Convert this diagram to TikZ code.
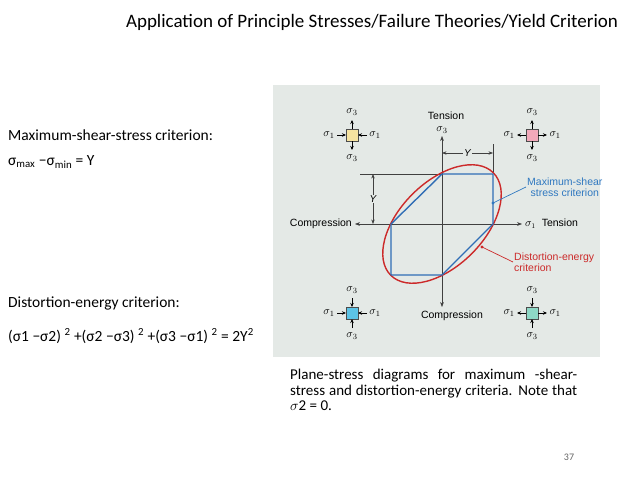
\documentclass[tikz,border=0pt]{standalone}
\usepackage{fontspec}
\setmainfont{Carlito}
\newfontfamily\arial{Liberation Sans}
\usetikzlibrary{arrows.meta}
\definecolor{bgpic}{HTML}{E4E9E6}
\definecolor{hexblue}{HTML}{2F6DB5}
\definecolor{ellred}{HTML}{CC2A2A}
\definecolor{lblblue}{HTML}{2F78C0}
\definecolor{yel}{HTML}{F6E3A0}
\definecolor{pnk}{HTML}{F2A9BA}
\definecolor{cyb}{HTML}{5CC3E6}
\definecolor{tea}{HTML}{8ED8C6}
\tikzset{
 lbl/.style={font=\arial\fontsize{10.5}{11}\selectfont, inner sep=1pt},
 sig/.style={font=\fontsize{11}{11}\selectfont, inner sep=0.5pt},
 ax/.style={draw=black!75, line width=0.5pt, -{Stealth[length=5pt]}},
 dim/.style={draw=black!75, line width=0.5pt, {Stealth[length=4.5pt]}-{Stealth[length=4.5pt]}},
 thin/.style={draw=black!75, line width=0.5pt},
 sarr/.style={draw=black, line width=0.7pt, -{Stealth[length=4pt,width=3.5pt]}},
 txt/.style={font=\fontsize{15.5}{17}\selectfont, anchor=west, inner sep=0},
}
\newcommand{\elem}[5]{% x y color horizontal-out? vertical-out?
 \begin{scope}[shift={(#1,#2)}]
 \node[draw=black!70, fill=#3, minimum size=12pt, inner sep=0] at (0,0) {};
 \ifnum#4=1
  \draw[sarr] (6,0) -- (15,0); \draw[sarr] (-6,0) -- (-15,0);
 \else
  \draw[sarr] (15,0) -- (6,0); \draw[sarr] (-15,0) -- (-6,0);
 \fi
 \ifnum#5=1
  \draw[sarr] (0,-6) -- (0,-15); \draw[sarr] (0,6) -- (0,15);
 \else
  \draw[sarr] (0,-15) -- (0,-6); \draw[sarr] (0,15) -- (0,6);
 \fi
 \node[sig] at (-23,0) {$\sigma_1$}; \node[sig] at (23,0) {$\sigma_1$};
 \node[sig] at (0,-23) {$\sigma_3$}; \node[sig] at (0,23) {$\sigma_3$};
 \end{scope}}
\begin{document}
\begin{tikzpicture}[x=1pt,y=-1pt]
\useasboundingbox (0,0) rectangle (638,479);
\fill[white] (0,0) rectangle (638,479);
\fill[bgpic] (273,85) rectangle (600,357);
% title
\node[font=\fontsize{19}{21}\selectfont] (title) at (372,22) {Application of Principle Stresses/Failure Theories/Yield Criterion};
% left text
\node[txt] (t1) at (8,135) {Maximum-shear-stress criterion:};
\node[txt] (t2) at (8,162) {σ\textsubscript{max} −σ\textsubscript{min} = Y};
\node[txt] (t3) at (8,303) {Distortion-energy criterion:};
\node[txt] (t4) at (8,336) {(σ1 −σ2) \textsuperscript{2} +(σ2 −σ3) \textsuperscript{2} +(σ3 −σ1) \textsuperscript{2} = 2Y\textsuperscript{2}};
% caption
\node[font=\fontsize{15}{15.5}\selectfont, anchor=north west, text width=287pt, align=justify, inner sep=0] (cap) at (290,369) {Plane-stress diagrams for maximum -shear-stress and distortion-energy criteria. Note that $\sigma$2 = 0.};
\node[font=\fontsize{10}{10}\selectfont, text=black!60] (pg) at (569,457) {37};
% axes
\coordinate (O) at (442,224);
\coordinate (xl) at (355,224); \coordinate (xr) at (522,224);
\coordinate (yt) at (442,136); \coordinate (yb) at (442,307);
\draw[ax] (O) -- (xr); \draw[ax] (O) -- (xl);
\draw[ax] (O) -- (yt); \draw[ax] (O) -- (yb);
\node[lbl, anchor=east] (cl) at (353,224) {Compression};
\node[lbl, anchor=west] (s1) at (524,224) {$\sigma_1$\ \ Tension};
\node[lbl] (tt) at (446,116) {Tension};
\node[sig] (s3) at (442,130) {$\sigma_3$};
\node[lbl] (cb) at (452,316) {Compression};
% dimensions
\coordinate (ext1) at (493,144); \coordinate (ext1b) at (493,174);
\draw[thin] (ext1) -- (ext1b);
\coordinate (ext2) at (360,174); \coordinate (ext2b) at (442,174);
\draw[thin] (ext2) -- (ext2b);
\coordinate (d1a) at (442,153); \coordinate (d1b) at (493,153);
\draw[dim] (d1a) -- (d1b);
\node[lbl, fill=bgpic, font=\arial\itshape\fontsize{10}{10}\selectfont] (Yh) at (467.5,153) {Y};
\coordinate (d2a) at (373,174); \coordinate (d2b) at (373,224);
\draw[dim] (d2a) -- (d2b);
\node[lbl, fill=bgpic, font=\arial\itshape\fontsize{10}{10}\selectfont] (Yv) at (373,199) {Y};
% ellipse and hexagon
\draw[ellred, line width=1.4pt, rotate around={45:(O)}] (O) ellipse [x radius=72.5, y radius=42];
\draw[hexblue, line width=1.4pt, line join=round] (442,174) -- (493,174) -- (493,224) -- (442,275) -- (391,275) -- (391,224) -- cycle;
% labels
\node[lbl, text=lblblue, align=center, anchor=west] (msl) at (526,187) {Maximum-shear\\stress criterion};
\draw[lblblue, line width=0.7pt] (493,203) -- (msl.west);
\fill[lblblue] (493,203) circle (1.6);
\node[lbl, text=ellred, align=left, anchor=west] (del) at (513,262) {Distortion-energy\\criterion};
\draw[ellred, line width=0.7pt] (482,247) -- (del.west);
\fill[ellred] (482,247) circle (1.6);
% stress elements
\elem{352}{135}{yel}{0}{1}
\elem{532}{135}{pnk}{1}{1}
\elem{352}{313}{cyb}{0}{0}
\elem{532}{313}{tea}{1}{0}
\end{tikzpicture}
\end{document}
